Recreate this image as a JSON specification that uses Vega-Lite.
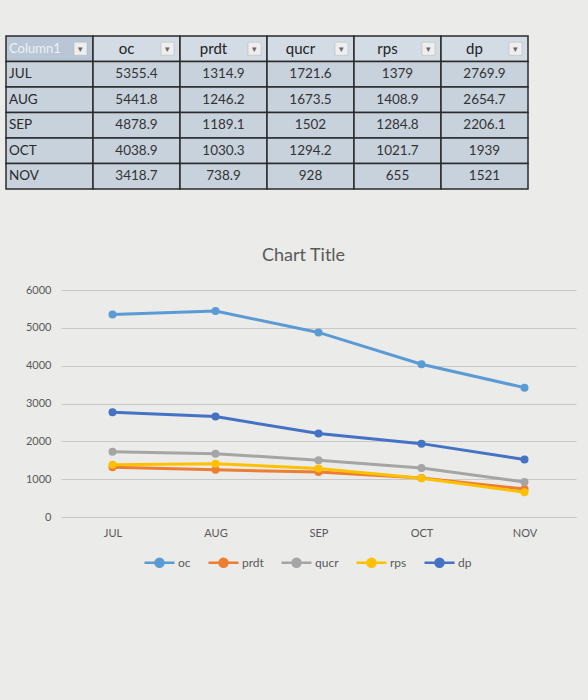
{
  "$schema": "https://vega.github.io/schema/vega-lite/v6.json",
  "background": "#EBEBE9",
  "padding": {"top": 35, "left": 5, "right": 5, "bottom": 128},
  "spacing": 57,
  "config": {"font": "Lato", "view": {"stroke": null}},
  "datasets": {
    "sales": [
      {"month": "JUL", "oc": 5355.4, "prdt": 1314.9, "qucr": 1721.6, "rps": 1379, "dp": 2769.9},
      {"month": "AUG", "oc": 5441.8, "prdt": 1246.2, "qucr": 1673.5, "rps": 1408.9, "dp": 2654.7},
      {"month": "SEP", "oc": 4878.9, "prdt": 1189.1, "qucr": 1502, "rps": 1284.8, "dp": 2206.1},
      {"month": "OCT", "oc": 4038.9, "prdt": 1030.3, "qucr": 1294.2, "rps": 1021.7, "dp": 1939},
      {"month": "NOV", "oc": 3418.7, "prdt": 738.9, "qucr": 928, "rps": 655, "dp": 1521}
    ],
    "cells": [
      {"row": "header", "col": "Column1", "text": "Column1"},
      {"row": "header", "col": "oc", "text": "oc"},
      {"row": "header", "col": "prdt", "text": "prdt"},
      {"row": "header", "col": "qucr", "text": "qucr"},
      {"row": "header", "col": "rps", "text": "rps"},
      {"row": "header", "col": "dp", "text": "dp"},
      {"row": "JUL", "col": "Column1", "text": "JUL"},
      {"row": "JUL", "col": "oc", "text": "5355.4"},
      {"row": "JUL", "col": "prdt", "text": "1314.9"},
      {"row": "JUL", "col": "qucr", "text": "1721.6"},
      {"row": "JUL", "col": "rps", "text": "1379"},
      {"row": "JUL", "col": "dp", "text": "2769.9"},
      {"row": "AUG", "col": "Column1", "text": "AUG"},
      {"row": "AUG", "col": "oc", "text": "5441.8"},
      {"row": "AUG", "col": "prdt", "text": "1246.2"},
      {"row": "AUG", "col": "qucr", "text": "1673.5"},
      {"row": "AUG", "col": "rps", "text": "1408.9"},
      {"row": "AUG", "col": "dp", "text": "2654.7"},
      {"row": "SEP", "col": "Column1", "text": "SEP"},
      {"row": "SEP", "col": "oc", "text": "4878.9"},
      {"row": "SEP", "col": "prdt", "text": "1189.1"},
      {"row": "SEP", "col": "qucr", "text": "1502"},
      {"row": "SEP", "col": "rps", "text": "1284.8"},
      {"row": "SEP", "col": "dp", "text": "2206.1"},
      {"row": "OCT", "col": "Column1", "text": "OCT"},
      {"row": "OCT", "col": "oc", "text": "4038.9"},
      {"row": "OCT", "col": "prdt", "text": "1030.3"},
      {"row": "OCT", "col": "qucr", "text": "1294.2"},
      {"row": "OCT", "col": "rps", "text": "1021.7"},
      {"row": "OCT", "col": "dp", "text": "1939"},
      {"row": "NOV", "col": "Column1", "text": "NOV"},
      {"row": "NOV", "col": "oc", "text": "3418.7"},
      {"row": "NOV", "col": "prdt", "text": "738.9"},
      {"row": "NOV", "col": "qucr", "text": "928"},
      {"row": "NOV", "col": "rps", "text": "655"},
      {"row": "NOV", "col": "dp", "text": "1521"}
    ]
  },
  "vconcat": [
    {
      "width": 522,
      "height": 153,
      "data": {"name": "cells"},
      "encoding": {
        "x": {"field": "col", "type": "nominal", "axis": null,
              "scale": {"domain": ["Column1", "oc", "prdt", "qucr", "rps", "dp"], "range": [-55, 467], "paddingInner": 0, "paddingOuter": 0}},
        "y": {"field": "row", "type": "nominal", "axis": null,
              "scale": {"domain": ["header", "JUL", "AUG", "SEP", "OCT", "NOV"], "paddingInner": 0, "paddingOuter": 0}}
      },
      "layer": [
        {
          "mark": {"type": "rect", "stroke": "#2B2B2B", "strokeWidth": 1.5},
          "encoding": {
            "fill": {
              "condition": [
                {"test": "datum.row === 'header' && datum.col === 'Column1'", "value": "#B8C6D5"},
                {"test": "datum.row === 'header'", "value": "#D3DBE4"}
              ],
              "value": "#C8D2DD"
            }
          }
        },
        {
          "transform": [{"filter": "datum.row === 'header'"}],
          "mark": {"type": "point", "shape": "square", "filled": true, "size": 170, "xOffset": 31,
                   "color": "#EEEEEE", "stroke": "#B5B5B5", "strokeWidth": 0.5, "opacity": 1}
        },
        {
          "transform": [{"filter": "datum.row === 'header'"}],
          "mark": {"type": "text", "text": "▾", "dx": 31, "fontSize": 9, "color": "#666666"}
        },
        {
          "transform": [{"filter": "datum.row === 'header' && datum.col !== 'Column1'"}],
          "mark": {"type": "text", "dx": -10, "fontSize": 15, "color": "#222222"},
          "encoding": {"text": {"field": "text", "type": "nominal"}}
        },
        {
          "transform": [{"filter": "datum.col === 'Column1'"}],
          "mark": {"type": "text", "align": "left", "dx": 3},
          "encoding": {
            "x": {"field": "col", "type": "nominal", "bandPosition": 0},
            "text": {"field": "text", "type": "nominal"},
            "size": {"condition": {"test": "datum.row === 'header'", "value": 13}, "value": 13.5},
            "color": {"condition": {"test": "datum.row === 'header'", "value": "#EEF2F6"}, "value": "#2A2A2A"}
          }
        },
        {
          "transform": [{"filter": "datum.row !== 'header' && datum.col !== 'Column1'"}],
          "mark": {"type": "text", "fontSize": 13.5, "color": "#333333"},
          "encoding": {"text": {"field": "text", "type": "nominal"}}
        }
      ]
    },
    {
      "width": 515,
      "height": 227,
      "title": {"text": "Chart Title", "fontSize": 18, "fontWeight": "normal", "color": "#595959", "offset": 19, "dx": -15},
      "data": {"name": "sales"},
      "transform": [{"fold": ["oc", "prdt", "qucr", "rps", "dp"], "as": ["series", "value"]}],
      "encoding": {
        "x": {
          "field": "month", "type": "ordinal", "sort": ["JUL", "AUG", "SEP", "OCT", "NOV"],
          "scale": {"type": "point", "padding": 0.5},
          "axis": {"title": null, "labelAngle": 0, "ticks": false, "grid": false, "domainColor": "#C8C8C8",
                   "labelPadding": 10, "labelFontSize": 11, "labelColor": "#595959"}
        },
        "y": {
          "field": "value", "type": "quantitative", "scale": {"domain": [0, 6000]},
          "axis": {"title": null, "format": "d", "values": [0, 1000, 2000, 3000, 4000, 5000, 6000],
                   "domain": false, "ticks": false, "labelPadding": 10, "gridColor": "#C8C8C8",
                   "labelFontSize": 11, "labelColor": "#595959"}
        },
        "color": {
          "field": "series", "type": "nominal",
          "scale": {"domain": ["oc", "prdt", "qucr", "rps", "dp"],
                    "range": ["#5B9BD5", "#ED7D31", "#A5A5A5", "#FFC000", "#4472C4"]},
          "legend": {
            "orient": "none", "legendX": 92, "legendY": 520, "direction": "horizontal", "title": null,
            "symbolType": "M-3,0H3M-0.8,0A0.8,0.8 0 1,1 0.8,0A0.8,0.8 0 1,1 -0.8,0",
            "symbolSize": 100, "symbolStrokeWidth": 2.5, "labelOffset": 12, "columnPadding": 12,
            "labelFontSize": 12, "labelColor": "#595959",
            "encode": {"symbols": {"update": {
              "fill": {"scale": "color", "field": "value"},
              "stroke": {"scale": "color", "field": "value"},
              "opacity": {"value": 1}
            }}}
          }
        }
      },
      "layer": [
        {"mark": {"type": "line", "strokeWidth": 3}},
        {"mark": {"type": "point", "filled": true, "size": 64, "opacity": 1}}
      ]
    }
  ]
}
